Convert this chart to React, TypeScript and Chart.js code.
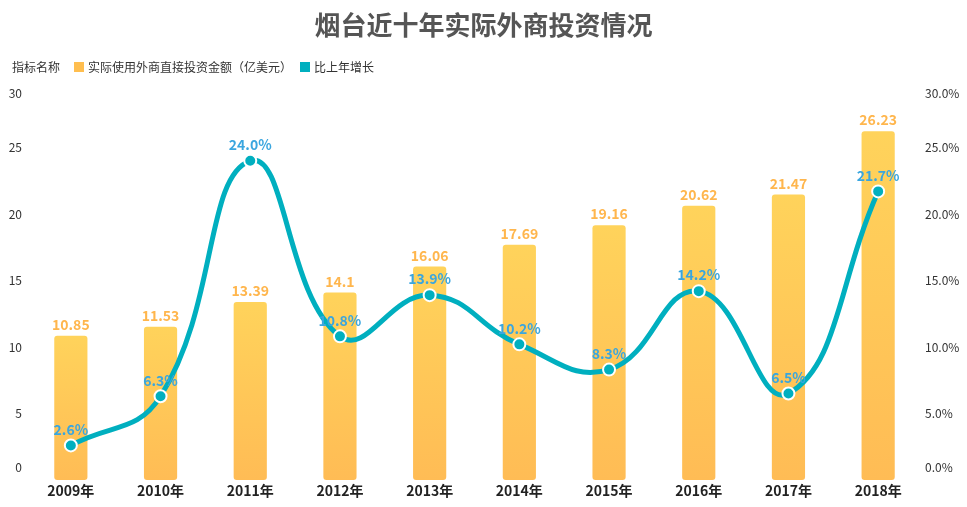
import React, { useEffect, useRef } from "react";
import { Chart, registerables } from "chart.js";

Chart.register(...registerables);

const title = "烟台近十年实际外商投资情况";
const legendTitle = "指标名称";
const barSeriesName = "实际使用外商直接投资金额（亿美元）";
const lineSeriesName = "比上年增长";
const categories = ["2009年", "2010年", "2011年", "2012年", "2013年", "2014年", "2015年", "2016年", "2017年", "2018年"];
const investment = [10.85, 11.53, 13.39, 14.1, 16.06, 17.69, 19.16, 20.62, 21.47, 26.23];
const growth = [2.6, 6.3, 24.0, 10.8, 13.9, 10.2, 8.3, 14.2, 6.5, 21.7];
const leftTicks = [0, 5, 10, 15, 20, 25, 30];
const rightTicks = [0, 5, 10, 15, 20, 25, 30];

const FONT = '"Noto Sans CJK SC", "Noto Sans", sans-serif';
const BAR_TOP = "#FFD35B";
const BAR_BOTTOM = "#FFBC55";
const LINE = "#00AFBF";
const BAR_LABEL = "#FFB64D";
const LINE_LABEL = "#3AA6DF";

const overlay = {
  id: "overlay",
  afterDraw(chart: any) {
    const ctx = chart.ctx;
    const area = chart.chartArea;
    const yL = chart.scales.y;
    const yR = chart.scales.y1;
    const x = chart.scales.x;
    ctx.save();
    // title
    ctx.fillStyle = "#555555";
    ctx.font = `bold 26px ${FONT}`;
    ctx.textAlign = "center";
    ctx.textBaseline = "middle";
    ctx.fillText(title, chart.width / 2, 25);
    // legend
    ctx.font = `12px ${FONT}`;
    ctx.textAlign = "left";
    ctx.fillStyle = "#333333";
    ctx.fillText(legendTitle, 12, 67);
    ctx.fillStyle = "#FFBE4F";
    ctx.fillRect(74, 62, 10, 10);
    ctx.fillStyle = "#333333";
    ctx.fillText(barSeriesName, 88, 67);
    ctx.fillStyle = LINE;
    ctx.fillRect(300, 62, 10, 10);
    ctx.fillStyle = "#333333";
    ctx.fillText(lineSeriesName, 314, 67);
    // y ticks
    const clamp = (v: number) => Math.min(Math.max(v, area.top + 12), area.bottom - 13);
    ctx.font = `12px ${FONT}`;
    ctx.fillStyle = "#333333";
    ctx.textAlign = "right";
    leftTicks.forEach((t) => ctx.fillText(String(t), 22, clamp(yL.getPixelForValue(t))));
    ctx.textAlign = "left";
    rightTicks.forEach((t) => ctx.fillText(t.toFixed(1) + "%", 925, clamp(yR.getPixelForValue(t))));
    // x labels
    ctx.font = `bold 14px ${FONT}`;
    ctx.fillStyle = "#222222";
    ctx.textAlign = "center";
    categories.forEach((c, i) => ctx.fillText(c, x.getPixelForValue(i), 491));
    // data labels
    const barMeta = chart.getDatasetMeta(0);
    ctx.font = `bold 14px ${FONT}`;
    ctx.fillStyle = BAR_LABEL;
    barMeta.data.forEach((el: any, i: number) => {
      ctx.fillText(String(investment[i]), el.x, el.y - 11);
    });
    const lineMeta = chart.getDatasetMeta(1);
    ctx.fillStyle = LINE_LABEL;
    lineMeta.data.forEach((el: any, i: number) => {
      ctx.fillText(growth[i].toFixed(1) + "%", el.x, el.y - 16);
    });
    ctx.restore();
  },
};

export default function App() {
  const ref = useRef<HTMLCanvasElement>(null);
  useEffect(() => {
    document.body.style.margin = "0";
    const canvas = ref.current!;
    const chart = new Chart(canvas, {
      type: "bar",
      data: {
        labels: categories,
        datasets: [
          {
            type: "bar",
            label: barSeriesName,
            data: investment,
            yAxisID: "y",
            order: 2,
            categoryPercentage: 1,
            barPercentage: 0.37,
            borderRadius: 3,
            borderSkipped: false,
            backgroundColor: (c: any) => {
              const ch = c.chart;
              const area = ch.chartArea;
              if (!area || c.dataIndex === undefined) return BAR_TOP;
              const top = ch.scales.y.getPixelForValue(investment[c.dataIndex]);
              const g = ch.ctx.createLinearGradient(0, top, 0, area.bottom);
              g.addColorStop(0, BAR_TOP);
              g.addColorStop(1, BAR_BOTTOM);
              return g;
            },
          } as any,
          {
            type: "line",
            label: lineSeriesName,
            data: growth,
            yAxisID: "y1",
            order: 1,
            borderColor: LINE,
            borderWidth: 5,
            tension: 0.45,
            pointRadius: 6,
            pointBorderWidth: 2,
            pointBorderColor: "#ffffff",
            pointBackgroundColor: LINE,
          } as any,
        ],
      },
      options: {
        animation: false,
        responsive: false,
        layout: { padding: { left: 26, right: 44, top: 81, bottom: 27 } },
        plugins: { legend: { display: false }, tooltip: { enabled: false }, title: { display: false } },
        scales: {
          x: { display: false },
          y: { display: false, min: 0, max: 30 },
          y1: { display: false, min: 0, max: 30, position: "right" },
        },
      },
      plugins: [overlay],
    });
    return () => chart.destroy();
  }, []);
  return <canvas ref={ref} width={967} height={507} style={{ display: "block" }} />;
}
